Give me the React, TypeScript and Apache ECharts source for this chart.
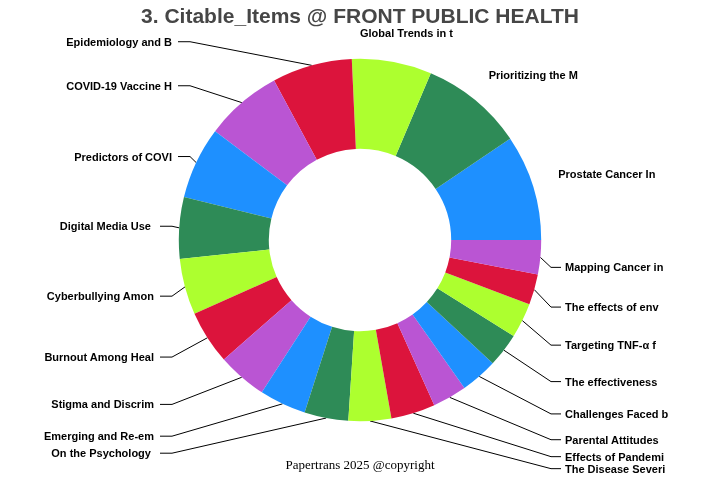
import React, { useEffect, useRef } from "react";
import * as echarts from "echarts";

const names = [
  "Prostate Cancer In",
  "Prioritizing the M",
  "Global Trends in t",
  "Epidemiology and B",
  "COVID-19 Vaccine H",
  "Predictors of COVI",
  "Digital Media Use ",
  "Cyberbullying Amon",
  "Burnout Among Heal",
  "Stigma and Discrim",
  "Emerging and Re-em",
  "On the Psychology ",
  "The Disease Severi",
  "Effects of Pandemi",
  "Parental Attitudes",
  "Challenges Faced b",
  "The effectiveness ",
  "Targeting TNF-α f",
  "The effects of env",
  "Mapping Cancer in ",
];
const values = [34, 33, 25.6, 25.7, 24.8, 23.2, 19.7, 18, 17.3, 15.9, 15, 14.1, 13.7, 14.2, 11, 11.9, 10.9, 11.2, 9.8, 11];
const palette = ["#1E90FF", "#2E8B57", "#ADFF2F", "#DC143C", "#BA55D3"];
const titleText = "3. Citable_Items @ FRONT PUBLIC HEALTH";
const footerText = "Papertrans 2025 @copyright";

type Pos = { x: number; y: number; align: string; group: string };

function computeLabelPositions(W: number, H: number): Pos[] {
  const cx = W / 2;
  const cy = H / 2;
  const total = values.reduce((a, b) => a + b, 0);
  let acc = 0;
  const out: Pos[] = values.map((v) => {
    const th = ((acc + v / 2) / total) * Math.PI * 2;
    acc += v;
    const deg = (th * 180) / Math.PI;
    const s = Math.sin(th);
    if (deg < 90) {
      const t2 = th + (1.5 * Math.PI) / 180;
      let x = cx + 209 * Math.cos(t2) - 4;
      const y = cy - 209 * Math.sin(t2);
      if (y < 40) x = cx - 4; // top band: start at the centre line
      return { x, y, align: "left", group: "tr" };
    }
    if (deg < 170) {
      return { x: cx - 182, y: cy + 8 - 214 * s, align: "right", group: "ul" };
    }
    if (deg < 270) {
      return { x: cx - 200, y: cy - 211 * s + 6 * Math.abs(s), align: "right", group: "ll" };
    }
    return { x: cx + 201, y: cy - 223 * s + 6, align: "left", group: "lr" };
  });
  // keep lower-right labels apart, from the bottom upwards
  const lr = out.map((p, i) => i).filter((i) => out[i].group === "lr").sort((a, b) => out[b].y - out[a].y);
  let limit = H - 11;
  lr.forEach((i) => {
    out[i].y = Math.min(out[i].y, limit);
    limit = out[i].y - 12;
  });
  return out;
}

export default function App() {
  const ref = useRef<HTMLDivElement>(null);
  useEffect(() => {
    const chart = echarts.init(ref.current!, null, { renderer: "svg" });
    const pos = computeLabelPositions(chart.getWidth(), chart.getHeight());
    chart.setOption({
      animation: false,
      color: palette,
      title: {
        text: titleText,
        left: "center",
        top: 0,
        textStyle: { fontSize: 21, fontWeight: "bold", color: "#464646", fontFamily: "Liberation Sans, Arial, sans-serif" },
      },
      graphic: [
        {
          type: "text",
          left: "center",
          top: 458,
          style: { text: footerText, font: "13px 'Liberation Serif', 'Times New Roman', serif", fill: "#000" },
        },
      ],
      series: [
        {
          type: "pie",
          radius: ["38%", "75.5%"],
          center: ["50%", "50%"],
          startAngle: 0,
          clockwise: false,
          data: names.map((n, i) => ({
            name: n,
            value: values[i],
            labelLine:
              pos[i].group === "tr"
                ? { show: false }
                : { show: true, length2: pos[i].group === "lr" ? 10 : 12 },
          })),
          label: {
            show: true,
            position: "outer",
            color: "#000",
            fontWeight: "bold",
            fontSize: 11,
            padding: [0, 6, 0, 4],
            backgroundColor: "rgba(255,255,255,0)",
            fontFamily: "Liberation Sans, Arial, sans-serif",
          },
          labelLine: { show: true, length: 15, length2: 10, lineStyle: { color: "#000", width: 1 } },
          labelLayout: (p: any) => {
            const q = pos[p.dataIndex];
            return { x: q.x, y: q.y, align: q.align, verticalAlign: "middle" };
          },
        },
      ],
    });
    return () => chart.dispose();
  }, []);
  return <div ref={ref} style={{ position: "fixed", left: 0, top: 0, width: 720, height: 480 }} />;
}
